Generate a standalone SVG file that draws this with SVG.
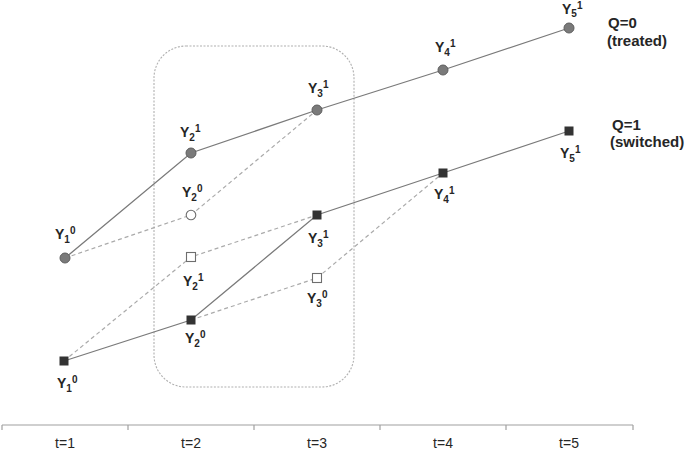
<svg xmlns="http://www.w3.org/2000/svg" width="685" height="452" viewBox="0 0 685 452">
<style>
.solid{stroke:#7a7a7a;stroke-width:1.3;fill:none}
.dash{stroke:#aaaaaa;stroke-width:1.2;fill:none;stroke-dasharray:4 3}
.circ{fill:#7a7a7a;stroke:#5e5e5e;stroke-width:1}
.ocirc{fill:#ffffff;stroke:#6e6e6e;stroke-width:1.1}
.sq{fill:#333333}
.osq{fill:#ffffff;stroke:#6e6e6e;stroke-width:1.1}
.lbl{font-family:"Liberation Sans",Arial,sans-serif;font-weight:bold;font-size:14px;fill:#262626}
.s{font-size:10px}
.q{font-family:"Liberation Sans",Arial,sans-serif;font-weight:bold;font-size:15px;fill:#262626}
.t{font-family:"Liberation Sans",Arial,sans-serif;font-size:14px;fill:#262626;text-anchor:middle}
.axis{stroke:#a0a0a0;stroke-width:1.2;fill:none}
</style>
<rect x="154" y="46" width="200" height="341" rx="32" ry="32" fill="none" stroke="#b0b0b0" stroke-width="1.1" stroke-dasharray="2 1.5"/>
<g id="connectors">
<polyline class="solid" points="65,258 191,153 317,110 443,70 569,28"/>
<polyline class="dash" points="65,258 191,215 317,110"/>
<polyline class="solid" points="64,361 191,320 317,215 443,173 569,131"/>
<polyline class="dash" points="64,361 191,257 317,215"/>
<polyline class="dash" points="191,320 317,278 443,173"/>
</g>
<g id="axis">
<line class="axis" x1="2" y1="425" x2="633" y2="425"/>
<line class="axis" x1="2" y1="425" x2="2" y2="430"/>
<line class="axis" x1="128" y1="425" x2="128" y2="430"/>
<line class="axis" x1="254" y1="425" x2="254" y2="430"/>
<line class="axis" x1="380" y1="425" x2="380" y2="430"/>
<line class="axis" x1="506" y1="425" x2="506" y2="430"/>
<line class="axis" x1="633" y1="425" x2="633" y2="430"/>
<text class="t" x="65" y="448">t=1</text>
<text class="t" x="191" y="448">t=2</text>
<text class="t" x="317" y="448">t=3</text>
<text class="t" x="443" y="448">t=4</text>
<text class="t" x="569" y="448">t=5</text>
</g>
<g id="q0-y1-0"><circle class="circ" cx="65" cy="258" r="5"/><text class="lbl" x="55" y="239">Y<tspan class="s" dy="4">1</tspan><tspan class="s" dy="-9">0</tspan></text></g>
<g id="q0-y2-1"><circle class="circ" cx="191" cy="153" r="5"/><text class="lbl" x="180" y="137">Y<tspan class="s" dy="4">2</tspan><tspan class="s" dy="-9">1</tspan></text></g>
<g id="q0-y2-0"><circle class="ocirc" cx="191" cy="215" r="4.8"/><text class="lbl" x="182" y="197">Y<tspan class="s" dy="4">2</tspan><tspan class="s" dy="-9">0</tspan></text></g>
<g id="q0-y3-1"><circle class="circ" cx="317" cy="110" r="5"/><text class="lbl" x="308" y="93">Y<tspan class="s" dy="4">3</tspan><tspan class="s" dy="-9">1</tspan></text></g>
<g id="q0-y4-1"><circle class="circ" cx="443" cy="70" r="5"/><text class="lbl" x="435" y="52">Y<tspan class="s" dy="4">4</tspan><tspan class="s" dy="-9">1</tspan></text></g>
<g id="q0-y5-1"><circle class="circ" cx="569" cy="28" r="5"/><text class="lbl" x="562" y="14">Y<tspan class="s" dy="3">5</tspan><tspan class="s" dy="-8">1</tspan></text></g>
<g id="q1-y1-0"><rect class="sq" x="59.5" y="356.5" width="9" height="9"/><text class="lbl" x="57" y="388">Y<tspan class="s" dy="4">1</tspan><tspan class="s" dy="-9">0</tspan></text></g>
<g id="q1-y2-0"><rect class="sq" x="186.5" y="315.5" width="9" height="9"/><text class="lbl" x="185" y="343">Y<tspan class="s" dy="4">2</tspan><tspan class="s" dy="-9">0</tspan></text></g>
<g id="q1-y2-1"><rect class="osq" x="186.5" y="252.5" width="9" height="9"/><text class="lbl" x="183" y="286">Y<tspan class="s" dy="4">2</tspan><tspan class="s" dy="-9">1</tspan></text></g>
<g id="q1-y3-1"><rect class="sq" x="312.5" y="210.5" width="9" height="9"/><text class="lbl" x="308" y="243">Y<tspan class="s" dy="4">3</tspan><tspan class="s" dy="-9">1</tspan></text></g>
<g id="q1-y3-0"><rect class="osq" x="312.5" y="273.5" width="9" height="9"/><text class="lbl" x="307" y="303">Y<tspan class="s" dy="4">3</tspan><tspan class="s" dy="-9">0</tspan></text></g>
<g id="q1-y4-1"><rect class="sq" x="438.5" y="168.5" width="9" height="9"/><text class="lbl" x="434" y="199">Y<tspan class="s" dy="4">4</tspan><tspan class="s" dy="-9">1</tspan></text></g>
<g id="q1-y5-1"><rect class="sq" x="564.5" y="126.5" width="9" height="9"/><text class="lbl" x="560" y="158">Y<tspan class="s" dy="4">5</tspan><tspan class="s" dy="-9">1</tspan></text></g>
<g id="legend-q0"><text class="q" x="608" y="28">Q=0</text><text class="q" x="607" y="46">(treated)</text></g>
<g id="legend-q1"><text class="q" x="612" y="130">Q=1</text><text class="q" x="610" y="147">(switched)</text></g>
</svg>
